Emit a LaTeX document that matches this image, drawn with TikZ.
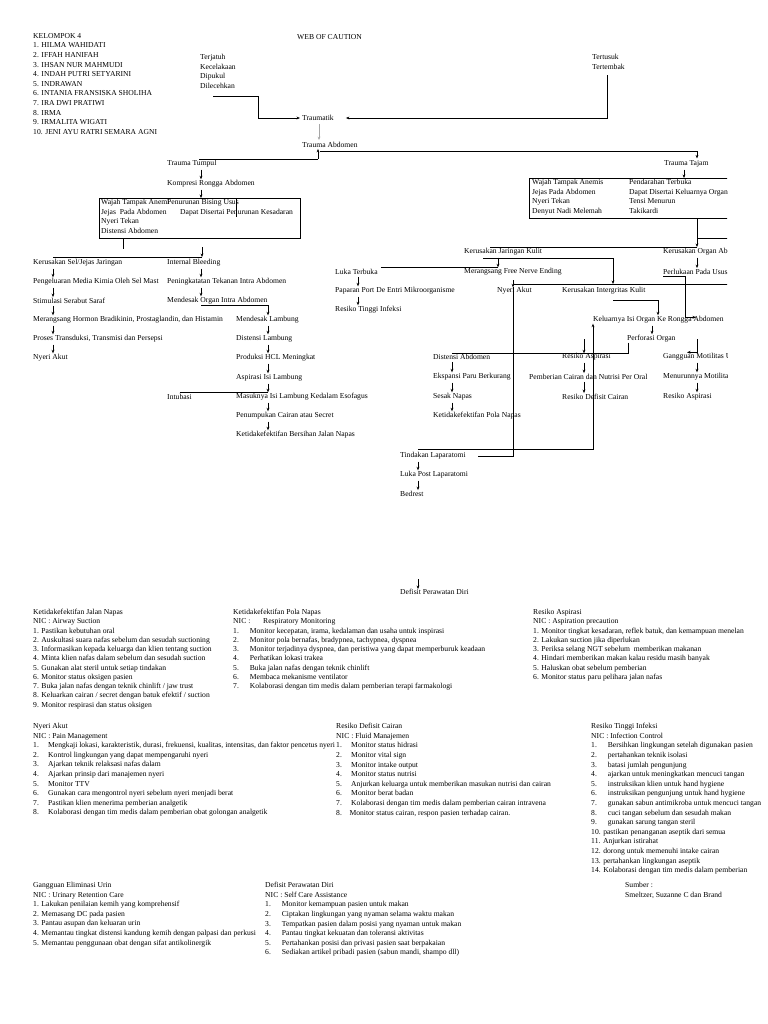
\documentclass[tikz,border=0pt]{standalone}
\usepackage{fontspec}
\setmainfont{Liberation Serif}
\usetikzlibrary{arrows.meta,calc}
\newcommand{\fs}{\fontsize{6.5}{8.2}\selectfont}
\newcommand{\fsb}{\fontsize{6.5}{7.9}\selectfont}
\newcommand{\itm}[3][0.5cm]{\makebox[#1][l]{#2}#3}

\begin{document}
\begin{tikzpicture}[x=0.03cm, y=-0.03cm,
    txt/.style={anchor=west, inner sep=0pt, font=\fs},
    blk/.style={anchor=north west, inner sep=0pt, align=left, font=\fs},
    blkb/.style={anchor=north west, inner sep=0pt, align=left, font=\fsb},
    tbl/.style={draw, line width=0.5pt, anchor=north west, inner sep=0pt},
    ln/.style={line width=0.6pt},
    arr/.style={-{Stealth[length=3pt,width=2.4pt]}, line width=0.6pt}
]
\useasboundingbox (0,0) rectangle (768,1024);

\begin{scope}
\clip (0,0) rectangle (727,600);
% header
\node[blk] (kelompok) at (33,33) {KELOMPOK 4\\1. HILMA WAHIDATI\\2. IFFAH HANIFAH\\3. IHSAN NUR MAHMUDI\\4. INDAH PUTRI SETYARINI\\5. INDRAWAN\\6. INTANIA FRANSISKA SHOLIHA\\7. IRA DWI PRATIWI\\8. IRMA\\9. IRMALITA WIGATI\\10. JENI AYU RATRI SEMARA AGNI};
\node[txt] (judul) at (297,37) {WEB OF CAUTION};
\node[blk] (sebab) at (200,54) {Terjatuh\\Kecelakaan\\Dipukul\\Dilecehkan};
\node[blk] (tusuk) at (592,54) {Tertusuk\\Tertembak};
\node[txt] (traumatik) at (302,118) {Traumatik};
\node[txt] (abdomen) at (302,145) {Trauma Abdomen};
\node[txt] (tumpul) at (167,164) {Trauma Tumpul};
\node[txt] (tajam) at (664,164) {Trauma Tajam};
\node[txt] (kompresi) at (167,184) {Kompresi Rongga Abdomen};

% column positions
\coordinate (xT) at (319,0);
\coordinate (xA) at (318,0);
\coordinate (xJ) at (697,0);
\coordinate (xK) at (684,0);
\coordinate (xB) at (201,0);
\coordinate (xS) at (123,0);
\coordinate (xL) at (53,0);
\coordinate (xC) at (268,0);
\coordinate (xD) at (313,0);
\coordinate (xE) at (236,0);
\coordinate (xM) at (498,0);
\coordinate (xN) at (613,0);
\coordinate (xP) at (358,0);
\coordinate (xQ) at (513,0);
\coordinate (xR) at (658,0);
\coordinate (xU) at (593,0);
\coordinate (xV) at (652,0);
\coordinate (xW) at (452,0);
\coordinate (xX) at (584,0);
\coordinate (xY) at (418,0);

\coordinate (s1) at (213,96);
\coordinate (s2) at (607,75);
\draw[arr] (s1) -- ++(45,0) |- ($(traumatik.west)+(-2,0)$);
\draw[arr] (s2) |- ($(traumatik.east)+(12,0)$);
\draw[arr, gray!70] ($(traumatik.south -| xT)+(0,3)$) -- ($(abdomen.north -| xT)+(0,-2)$);

\coordinate (j1) at (199,159);
\draw[ln] (j1) -- (j1 -| xA);
\draw[arr] (j1 -| xA) -- ($(abdomen.south -| xA)+(0,1)$);
\draw[arr] ($(abdomen.south -| xA)+(2,3)$) -| ($(tajam.north -| xJ)+(0,-2)$);

% trauma tumpul
\draw[arr] ($(tumpul.south -| xB)+(0,2)$) -- ($(kompresi.north -| xB)+(0,-1)$);
\node[tbl, minimum width=6.03cm, minimum height=1.2cm] (box1) at (99,198) {};
\draw[arr] ($(kompresi.south -| xB)+(0,2)$) -- (box1.north -| xB);
\node[blk] (gejala1) at (101,199) {Wajah Tampak Anemi\\Jejas\ \ Pada Abdomen\\Nyeri Tekan\\Distensi Abdomen};
\node[txt] (gejala1b) at (167,203) {Penurunan Bising Usus};
\node[txt] (gejala1c) at (180,212.5) {Dapat Disertai Penurunan Kesadaran};
\draw[ln] (box1.north -| xE) -- ++(0,19);

\coordinate (j2) at (202,257);
\draw[ln] (box1.south -| xS) -- ++(0,10);
\draw[ln] (j2) -- (j2 -| xL);
\draw[arr] ($(j2)+(0,-10)$) -- (j2);

\node[txt] (kerusakansel) at (33,263) {Kerusakan Sel/Jejas Jaringan};
\node[txt] (pengeluaran) at (33,282) {Pengeluaran Media Kimia Oleh Sel Mast};
\node[txt] (stimulasi) at (33,301) {Stimulasi Serabut Saraf};
\node[txt] (hormon) at (33,320) {Merangsang Hormon Bradikinin, Prostaglandin, dan Histamin};
\node[txt] (proses) at (33,339) {Proses Transduksi, Transmisi dan Persepsi};
\node[txt] (nyeri1) at (33,358) {Nyeri Akut};
\foreach \a/\b in {kerusakansel/pengeluaran, pengeluaran/stimulasi, stimulasi/hormon, hormon/proses, proses/nyeri1}
  \draw[arr] ($(\a.south -| xL)+(0,2)$) -- ($(\b.north -| xL)+(0,-1)$);

\node[txt] (bleeding) at (167,263) {Internal Bleeding};
\node[txt] (tekanan) at (167,282) {Peningkatatan Tekanan Intra Abdomen};
\node[txt] (organ) at (167,301) {Mendesak Organ Intra Abdomen};
\node[txt] (intubasi) at (167,397) {Intubasi};
\foreach \a/\b in {bleeding/tekanan, tekanan/organ}
  \draw[arr] ($(\a.south -| xB)+(0,2)$) -- ($(\b.north -| xB)+(0,-1)$);

\node[txt] (lambung) at (236,320) {Mendesak Lambung};
\node[txt] (distensil) at (236,339) {Distensi Lambung};
\node[txt] (hcl) at (236,358) {Produksi HCL Meningkat};
\node[txt] (aspirasi) at (236,378) {Aspirasi Isi Lambung};
\node[txt] (esofagus) at (236,397) {Masuknya Isi Lambung Kedalam Esofagus};
\node[txt] (sekret) at (236,416) {Penumpukan Cairan atau Secret};
\node[txt] (bersihan) at (236,435) {Ketidakefektifan Bersihan Jalan Napas};
\draw[arr] ($(organ.south -| xB)+(0,1)$) -| ($(lambung.north -| xC)+(0,-1)$);
\foreach \a/\b in {lambung/distensil, distensil/hcl, hcl/aspirasi, aspirasi/esofagus, esofagus/sekret, sekret/bersihan}
  \draw[arr] ($(\a.south -| xC)+(0,2)$) -- ($(\b.north -| xC)+(0,-1)$);
\draw[ln] ($(intubasi.north)+(0,-2)$) -- ($(intubasi.north -| xC)+(0,-2)$);

% trauma tajam
\node[tbl, minimum width=8.1cm, minimum height=1.2cm] (box2) at (529,178) {};
\draw[arr] ($(tajam.south -| xK)+(0,2)$) -- (box2.north -| xK);
\node[blk] (gejala2a) at (532,179) {Wajah Tampak Anemis\\Jejas Pada Abdomen\\Nyeri Tekan\\Denyut Nadi Melemah};
\node[blk] (gejala2b) at (629,179) {Pendarahan Terbuka\\Dapat Disertai Keluarnya Organ\\Tensi Menurun\\Takikardi};

\node[txt] (jaringan) at (464,252) {Kerusakan Jaringan Kulit};
\node[txt] (organab) at (663,252) {Kerusakan Organ Abdomen};
\node[txt] (luka) at (335,272) {Luka Terbuka};
\node[txt] (nerve) at (464,272) {Merangsang Free Nerve Ending};
\node[txt] (perlukaan) at (663,272) {Perlukaan Pada Usus};
\node[txt] (port) at (335,291) {Paparan Port De Entri Mikroorganisme};
\node[txt] (nyeri2) at (497,291) {Nyeri Akut};
\node[txt] (integritas) at (562,291) {Kerusakan Intergritas Kulit};
\node[txt] (infeksi) at (335,310) {Resiko Tinggi Infeksi};
\node[txt] (keluarnya) at (593,320) {Keluarnya Isi Organ Ke Rongga Abdomen};
\node[txt] (perforasi) at (627,339) {Perforasi Organ};
\node[txt] (distensia) at (433,357) {Distensi Abdomen};
\node[txt] (aspirasi2) at (562,357) {Resiko Aspirasi};
\node[txt] (motilitas) at (663,357) {Gangguan Motilitas Usus};
\node[txt] (ekspansi) at (433,377) {Ekspansi Paru Berkurang};
\node[txt] (nutrisi) at (529,377) {Pemberian Cairan dan Nutrisi Per Oral};
\node[txt] (menurun) at (663,377) {Menurunnya Motilitas Usus};
\node[txt] (sesak) at (433,397) {Sesak Napas};
\node[txt] (defisit) at (562,397) {Resiko Defisit Cairan};
\node[txt] (aspirasi3) at (663,397) {Resiko Aspirasi};
\node[txt] (pola) at (433,416) {Ketidakefektifan Pola Napas};
\node[txt] (tindakan) at (400,456) {Tindakan Laparatomi};
\node[txt] (lukapost) at (400,475) {Luka Post Laparatomi};
\node[txt] (bedrest) at (400,494) {Bedrest};
\node[txt] (perawatan) at (400,592) {Defisit Perawatan Diri};

\coordinate (j3) at (697,247);
\coordinate (j4) at (613,284);
\draw[arr] (box2.south -| xJ) -- (j3);
\draw[ln] (j3) -- ($(j3 -| xM)+(-8,0)$);
\draw[ln] ($(j3)+(0,-9)$) -- ++(80,0);
\draw[arr] ($(jaringan.south -| xM)+(0,2)$) -- ($(nerve.north -| xM)+(0,-1)$);
\draw[arr] ($(jaringan.south west)+(19,3)$) -| (j4);
\draw[ln] ($(luka.east)+(3,-5)$) -- ($(luka.east -| xM)+(0,-5)$);
\draw[arr] ($(luka.south -| xP)+(0,2)$) -- ($(port.north -| xP)+(0,-1)$);
\draw[arr] ($(port.south -| xP)+(0,2)$) -- ($(infeksi.north -| xP)+(0,-1)$);
\draw[ln] (j4 -| xQ) -- ++(260,0);
\draw[arr] ($(j4 -| xQ)+(0,-4)$) -- (nyeri2.north -| xQ);
\draw[ln] (nyeri2.north -| xQ) -- (tindakan.east -| xQ) -- ($(tindakan.east)+(12,0)$);
\draw[arr] ($(organab.south -| xJ)+(0,2)$) -- ($(perlukaan.north -| xJ)+(0,-1)$);
\draw[arr] ($(perlukaan.south west)+(0,1)$) -- ++(22,0) |- ($(keluarnya.north -| xJ)+(-1,1)$);
\draw[arr] ($(integritas.south -| xN)+(0,6)$) -| ($(keluarnya.north -| xR)+(0,-1)$);
\draw[arr] ($(tindakan.north -| xY)+(0,-3)$) -| (keluarnya.south west);
\draw[arr] ($(keluarnya.south -| xV)+(0,2)$) -- ($(perforasi.north -| xV)+(0,-1)$);
\draw[ln] ($(perforasi.south west)+(1,0)$) |- ($(distensia.north -| xW)+(0,-1)$);
\draw[arr] ($(aspirasi2.north -| xX)+(0,-14)$) -- (aspirasi2.north -| xX);
\foreach \a/\b in {distensia/ekspansi, ekspansi/sesak, sesak/pola}
  \draw[arr] ($(\a.south -| xW)+(0,2)$) -- ($(\b.north -| xW)+(0,-1)$);
\foreach \a/\b in {aspirasi2/nutrisi, nutrisi/defisit}
  \draw[arr] ($(\a.south -| xX)+(0,2)$) -- ($(\b.north -| xX)+(0,-1)$);
\foreach \a/\b in {motilitas/menurun, menurun/aspirasi3}
  \draw[arr] ($(\a.south -| xJ)+(0,2)$) -- ($(\b.north -| xJ)+(0,-1)$);
\draw[arr] ($(motilitas.north -| xJ)+(0,-14)$) -- ++(0,13) -- ++(-10,0);
\foreach \a/\b in {tindakan/lukapost, lukapost/bedrest}
  \draw[arr] ($(\a.south -| xY)+(0,2)$) -- ($(\b.north -| xY)+(0,-1)$);
\draw[arr] ($(perawatan.north -| xY)+(0,-10)$) -- (perawatan.north -| xY);
\end{scope}

% NIC
\begin{scope}
\clip (0,600) rectangle (768,1024);
\node[blkb] (nicjalan) at (33,609) {Ketidakefektifan Jalan Napas\\NIC : Airway Suction\\1. Pastikan kebutuhan oral\\2. Auskultasi suara nafas sebelum dan sesudah suctioning\\3. Informasikan kepada keluarga dan klien tentang suction\\4. Minta klien nafas dalam sebelum dan sesudah suction\\5. Gunakan alat steril untuk setiap tindakan\\6. Monitor status oksigen pasien\\7. Buka jalan nafas dengan teknik chinlift / jaw trust\\8. Keluarkan cairan / secret dengan batuk efektif / suction\\9. Monitor respirasi dan status oksigen};
\node[blkb] (nicpola) at (233,609) {Ketidakefektifan Pola Napas\\\makebox[0.9cm][l]{NIC :}Respiratory Monitoring\\\itm{1.}{Monitor kecepatan, irama, kedalaman dan usaha untuk inspirasi}\\\itm{2.}{Monitor pola bernafas, bradypnea, tachypnea, dyspnea}\\\itm{3.}{Monitor terjadinya dyspnea, dan peristiwa yang dapat memperburuk keadaan}\\\itm{4.}{Perhatikan lokasi trakea}\\\itm{5.}{Buka jalan nafas dengan teknik chinlift}\\\itm{6.}{Membaca mekanisme ventilator}\\\itm{7.}{Kolaborasi dengan tim medis dalam pemberian terapi farmakologi}};
\node[blkb] (nicaspirasi) at (533,609) {Resiko Aspirasi\\NIC : Aspiration precaution\\1. Monitor tingkat kesadaran, reflek batuk, dan kemampuan menelan\\2. Lakukan suction jika diperlukan\\3. Periksa selang NGT sebelum\ \ memberikan makanan\\4. Hindari memberikan makan kalau residu masih banyak\\5. Haluskan obat sebelum pemberian\\6. Monitor status paru pelihara jalan nafas};

\node[blk] (nicnyeri) at (33,723) {Nyeri Akut\\NIC : Pain Management\\\itm[0.45cm]{1.}{Mengkaji lokasi, karakteristik, durasi, frekuensi, kualitas, intensitas, dan faktor pencetus nyeri}\\\itm[0.45cm]{2.}{Kontrol lingkungan yang dapat mempengaruhi nyeri}\\\itm[0.45cm]{3.}{Ajarkan teknik relaksasi nafas dalam}\\\itm[0.45cm]{4.}{Ajarkan prinsip dari manajemen nyeri}\\\itm[0.45cm]{5.}{Monitor TTV}\\\itm[0.45cm]{6.}{Gunakan cara mengontrol nyeri sebelum nyeri menjadi berat}\\\itm[0.45cm]{7.}{Pastikan klien menerima pemberian analgetik}\\\itm[0.45cm]{8.}{Kolaborasi dengan tim medis dalam pemberian obat golongan analgetik}};
\node[blk] (niccairan) at (336,723) {Resiko Defisit Cairan\\NIC : Fluid Manajemen\\\itm[0.45cm]{1.}{Monitor status hidrasi}\\\itm[0.45cm]{2.}{Monitor vital sign}\\\itm[0.45cm]{3.}{Monitor intake output}\\\itm[0.45cm]{4.}{Monitor status nutrisi}\\\itm[0.45cm]{5.}{Anjurkan keluarga untuk memberikan masukan nutrisi dan cairan}\\\itm[0.45cm]{6.}{Monitor berat badan}\\\itm[0.45cm]{7.}{Kolaborasi dengan tim medis dalam pemberian cairan intravena}\\\itm[0.4cm]{8.}{Monitor status cairan, respon pasien terhadap cairan.}};
\node[blk] (nicinfeksi) at (591,723) {Resiko Tinggi Infeksi\\NIC : Infection Control\\\itm{1.}{Bersihkan lingkungan setelah digunakan pasien}\\\itm{2.}{pertahankan teknik isolasi}\\\itm{3.}{batasi jumlah pengunjung}\\\itm{4.}{ajarkan untuk meningkatkan mencuci tangan}\\\itm{5.}{instruksikan klien untuk hand hygiene}\\\itm{6.}{instruksikan pengunjung untuk hand hygiene}\\\itm{7.}{gunakan sabun antimikroba untuk mencuci tangan}\\\itm{8.}{cuci tangan sebelum dan sesudah makan}\\\itm{9.}{gunakan sarung tangan steril}\\10. pastikan penanganan aseptik dari semua\\11. Anjurkan istirahat\\12. dorong untuk memenuhi intake cairan\\13. pertahankan lingkungan aseptik\\14. Kolaborasi dengan tim medis dalam pemberian};

\node[blk] (nicurin) at (33,882) {Gangguan Eliminasi Urin\\NIC : Urinary Retention Care\\1. Lakukan penilaian kemih yang komprehensif\\2. Memasang DC pada pasien\\3. Pantau asupan dan keluaran urin\\4. Memantau tingkat distensi kandung kemih dengan palpasi dan perkusi\\5. Memantau penggunaan obat dengan sifat antikolinergik};
\node[blk] (nicdiri) at (265,882) {Defisit Perawatan Diri\\NIC : Self Care Assistance\\\itm{1.}{Monitor kemampuan pasien untuk makan}\\\itm{2.}{Ciptakan lingkungan yang nyaman selama waktu makan}\\\itm{3.}{Tempatkan pasien dalam posisi yang nyaman untuk makan}\\\itm{4.}{Pantau tingkat kekuatan dan toleransi aktivitas}\\\itm{5.}{Pertahankan posisi dan privasi pasien saat berpakaian}\\\itm{6.}{Sediakan artikel pribadi pasien (sabun mandi, shampo dll)}};
\node[blk] (sumber) at (625,882) {Sumber :\\Smeltzer, Suzanne C dan Brand};
\end{scope}

\end{tikzpicture}
\end{document}
